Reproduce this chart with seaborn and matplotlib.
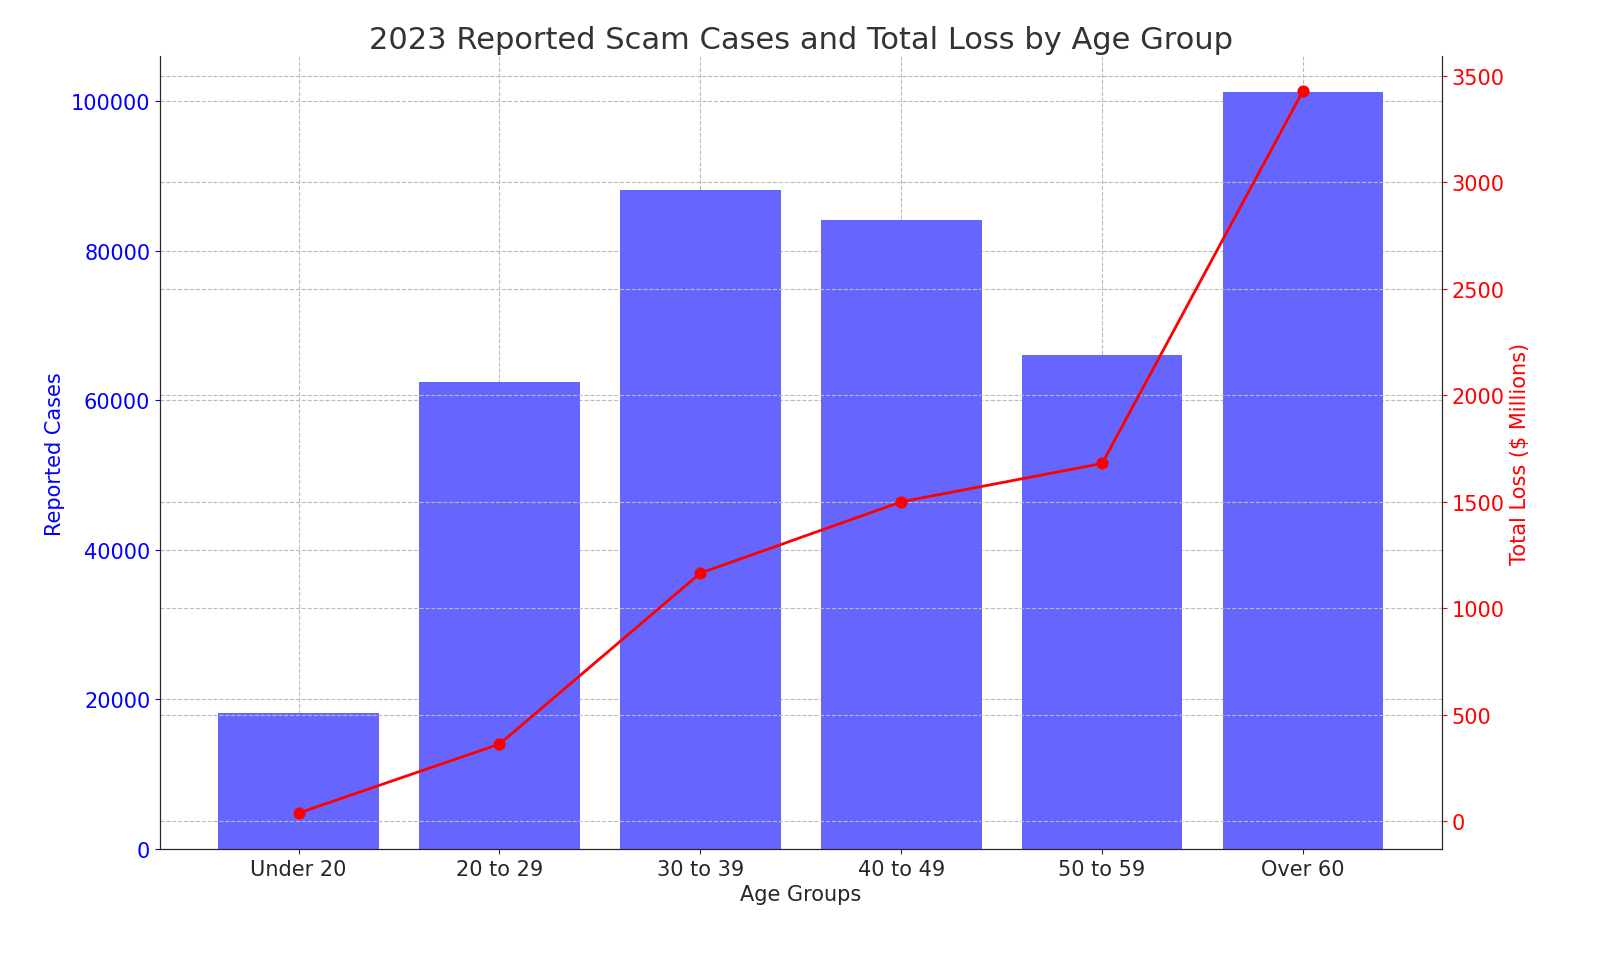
import matplotlib
matplotlib.use('Agg')
import matplotlib.pyplot as plt
import seaborn as sns
import pandas as pd

age_groups = ['Under 20', '20 to 29', '30 to 39', '40 to 49', '50 to 59', 'Over 60']
reported_cases = [18200, 62400, 88100, 84100, 66000, 101200]
total_loss = [38, 362, 1165, 1500, 1680, 3430]

df = pd.DataFrame({'age': age_groups, 'cases': reported_cases, 'loss': total_loss})

sns.set_style('ticks')
plt.rcParams['font.family'] = ['DejaVu Sans']
fig, ax1 = plt.subplots(figsize=(16, 9.54), dpi=100)

sns.barplot(data=df, x='age', y='cases', color='#6666ff', saturation=1, width=0.8,
            linewidth=0, ax=ax1)
ax1.set_ylim(0, 106000)
ax1.set_xlabel('Age Groups', fontsize=15)
ax1.set_ylabel('Reported Cases', color='blue', fontsize=15)
ax1.tick_params(axis='y', colors='blue', labelsize=15)
ax1.tick_params(axis='x', labelsize=15)
ax1.grid(True, linestyle='--', color='#bbbbbb', linewidth=0.8)
ax1.set_axisbelow(True)
ax1.spines['top'].set_visible(False)

ax2 = ax1.twinx()
sns.lineplot(data=df, x='age', y='loss', color='red', marker='o', markersize=8,
             markeredgecolor='red', linewidth=2, ax=ax2, sort=False)
ax2.set_ylim(-131, 3593)
ax2.set_ylabel('Total Loss ($ Millions)', color='red', fontsize=15)
ax2.tick_params(axis='y', colors='red', labelsize=15)
ax2.grid(True, linestyle='--', color='#bbbbbb', linewidth=0.8)
ax2.spines['top'].set_visible(False)

ax1.set_title('2023 Reported Scam Cases and Total Loss by Age Group', fontsize=22, color='#333333')
fig.subplots_adjust(left=0.1, right=0.901, top=0.94, bottom=0.109)
fig.savefig('out.png')
